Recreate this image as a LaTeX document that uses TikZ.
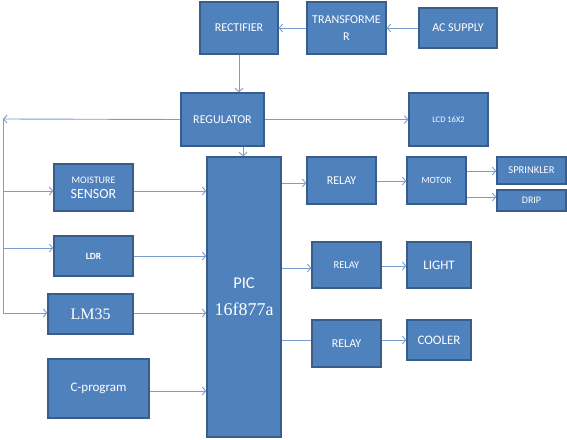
\documentclass[tikz,border=0pt]{standalone}
\usepackage{fontspec}
\setmainfont{Carlito}
\newfontfamily\tnr{Liberation Serif}
\usetikzlibrary{arrows.meta}
\definecolor{boxfill}{HTML}{4F81BD}
\definecolor{boxline}{HTML}{385D8A}
\definecolor{wire}{HTML}{7B9DCC}
\tikzset{
  blk/.style={draw=boxline, fill=boxfill, line width=1.3pt, text=white, inner sep=1pt, align=center},
  wr/.style={draw=wire, line width=0.9pt},
  ar/.style={wr, -{Straight Barb[length=3.5pt,width=8pt,line width=0.9pt]}},
  fs/.style={font=\fontsize{#1}{#1}\selectfont}
}
\begin{document}
\begin{tikzpicture}[x=1pt,y=-1pt]
\useasboundingbox (0,0) rectangle (567,439);
% blocks
\node[blk, fs=12, minimum width=78, minimum height=52] (rect) at (239,28) {RECTIFIER};
\node[blk, minimum width=79, minimum height=52, font=\fontsize{12}{17}\selectfont] (trans) at (346.5,28) {TRANSFORME\\R};
\node[blk, fs=12, minimum width=78, minimum height=40] (ac) at (458,28) {AC SUPPLY};
\node[blk, fs=12, minimum width=83, minimum height=53] (reg) at (222.5,119.5) {REGULATOR};
\node[blk, fs=8.5, minimum width=79, minimum height=53] (lcd) at (448.5,119.5) {LCD 16X2};
\node[blk, minimum width=74, minimum height=280, font=\fontsize{16.5}{18}\selectfont] (pic) at (244,297) {PIC\\[9pt]{\tnr\fontsize{18}{20}\selectfont 16f877a}};
\node[blk, minimum width=79, minimum height=47, font=\fontsize{10}{12}\selectfont] (moist) at (93.5,187.5) {MOISTURE\\[3pt]{\fontsize{14}{15}\selectfont SENSOR}};
\node[blk, minimum width=79, minimum height=40, font=\bfseries\fontsize{9.5}{9.5}\selectfont] (ldr) at (93.5,256) {LDR};
\node[blk, minimum width=85, minimum height=40, font=\tnr\fontsize{16}{16}\selectfont] (lm35) at (90.5,314) {LM35};
\node[blk, fs=13, minimum width=101, minimum height=59] (cprog) at (98.5,388.5) {C-program};
\node[blk, fs=12, minimum width=69, minimum height=47] (relayA) at (341.5,180.5) {RELAY};
\node[blk, fs=9.5, minimum width=59, minimum height=47] (motor) at (436.5,180.5) {MOTOR};
\node[blk, fs=10.5, minimum width=69, minimum height=27] (sprink) at (531.5,170.5) {SPRINKLER};
\node[blk, fs=10, minimum width=69, minimum height=21] (drip) at (531.5,200.5) {DRIP};
\node[blk, fs=10.5, minimum width=69, minimum height=46] (relayB) at (346.5,265) {RELAY};
\node[blk, fs=13, minimum width=64, minimum height=46] (light) at (439,265) {LIGHT};
\node[blk, fs=12, minimum width=69, minimum height=47] (relayC) at (346.5,343.5) {RELAY};
\node[blk, fs=13, minimum width=64, minimum height=40] (cooler) at (439,340) {COOLER};
% helper coordinates
\coordinate (busT) at (3,119);
\coordinate (busB) at (3,313);
\coordinate (yM) at (0,191);
\coordinate (yL) at (0,248);
\coordinate (yLp) at (0,256);
\coordinate (yT) at (0,313);
\coordinate (yC) at (0,391);
\coordinate (yRA) at (0,183);
\coordinate (yRB) at (0,268);
\coordinate (yRC) at (0,340);
\coordinate (yMo) at (0,181);
\coordinate (yS) at (0,171);
\coordinate (yD) at (0,197);
\coordinate (yLi) at (0,266);
\coordinate (xR) at (243,0);
% connectors
\draw[ar] (ac.west) -- (trans.east);
\draw[ar] (trans.west) -- (rect.east);
\draw[ar] (rect.south) -- (rect.south |- reg.north);
\draw[ar] (reg.east) -- (lcd.west);
\draw[ar] (reg.west) -- (busT);
\draw[wr] (busT) -- (busB);
\draw[ar] (busT |- yM) -- (moist.west |- yM);
\draw[ar] (busT |- yL) -- (ldr.west |- yL);
\draw[ar] (busB) -- (lm35.west |- yT);
\draw[ar] (moist.east |- yM) -- (pic.west |- yM);
\draw[ar] (ldr.east |- yLp) -- (pic.west |- yLp);
\draw[ar] (lm35.east |- yT) -- (pic.west |- yT);
\draw[ar] (cprog.east |- yC) -- (pic.west |- yC);
\draw[ar] (reg.south -| xR) -- (pic.north -| xR);
\draw[ar] (pic.east |- yRA) -- (relayA.west |- yRA);
\draw[ar] (pic.east |- yRB) -- (relayB.west |- yRB);
\draw[wr] (pic.east |- yRC) -- (relayC.west |- yRC);
\draw[ar] (relayA.east |- yMo) -- (motor.west |- yMo);
\draw[ar] (motor.east |- yS) -- (sprink.west |- yS);
\draw[ar] (motor.east |- yD) -- (drip.west |- yD);
\draw[ar] (relayB.east |- yLi) -- (light.west |- yLi);
\draw[ar] (relayC.east |- yRC) -- (cooler.west |- yRC);
\end{tikzpicture}
\end{document}
